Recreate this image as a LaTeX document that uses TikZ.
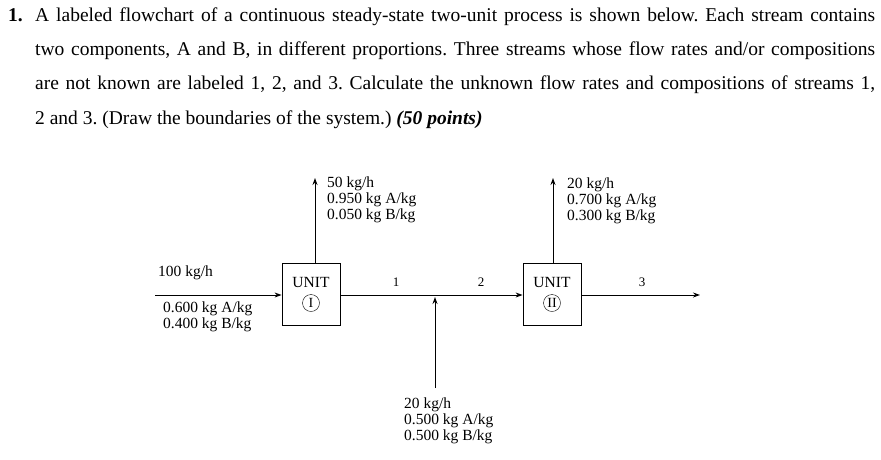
\documentclass[tikz,border=0pt]{standalone}
\usepackage{fontspec}
\setmainfont{Liberation Serif}
\usetikzlibrary{arrows.meta}
\frenchspacing
\begin{document}
\begin{tikzpicture}[x=1pt,y=-1pt,
  line/.style={line width=1pt},
  arr/.style={line width=1pt,-{Stealth[length=7pt,width=5pt]}},
  unitbox/.style={draw,line width=0.8pt,minimum width=58pt,minimum height=62pt,inner sep=0pt},
  lbl/.style={font=\fontsize{15.5}{16}\selectfont,align=left,inner sep=0pt,anchor=north west},
  para/.style={font=\fontsize{19.5}{20}\selectfont,inner sep=0pt,anchor=base west}]
\useasboundingbox (0,0) rectangle (881,459);
\node[para] (n1) at (8,21) {\textbf{1.}};
\node[para] (l1) at (35,21) {\makebox[840pt][s]{A labeled flowchart of a continuous steady-state two-unit process is shown below. Each stream contains}};
\node[para] (l2) at (35,55) {\makebox[840pt][s]{two components, A and B, in different proportions. Three streams whose flow rates and/or compositions}};
\node[para] (l3) at (35,89) {\makebox[840pt][s]{are not known are labeled 1, 2, and 3. Calculate the unknown flow rates and compositions of streams 1,}};
\node[para] (l4) at (35,124) {2 and 3. (Draw the boundaries of the system.) \textbf{\textit{(50 points)}}};

\node[unitbox] (u1) at (311,294) {};
\node[lbl,anchor=center] (u1t) at (311,282) {UNIT};
\node[draw,circle,inner sep=0.5pt,minimum size=17pt,font=\fontsize{14}{15}\selectfont] (u1c) at (311,303) {I};
\node[unitbox] (u2) at (552,294) {};
\node[lbl,anchor=center] (u2t) at (552,282) {UNIT};
\node[draw,circle,inner sep=0.5pt,minimum size=17pt,font=\fontsize{14}{15}\selectfont] (u2c) at (552,303) {II};

\coordinate (in) at (155,295);
\coordinate (top1) at (315,178);
\coordinate (top2) at (553,178);
\coordinate (out) at (700,295);
\coordinate (bot) at (435,388);
\coordinate (mix) at (435,295);
\coordinate (mixb) at (435,297);

\draw[arr] (in) -- (u1.west|-in);
\draw[arr] (u1.north-|top1) -- (top1);
\draw[line] (u1.east|-mix) -- (mix);
\draw[arr] (mix) -- (u2.west|-mix);
\draw[arr] (bot) -- (mixb);
\draw[arr] (u2.north-|top2) -- (top2);
\draw[arr] (u2.east|-out) -- (out);

\node[lbl] (a) at (327,177) {50 kg/h\\0.950 kg A/kg\\0.050 kg B/kg};
\node[lbl] (b) at (567,178) {20 kg/h\\0.700 kg A/kg\\0.300 kg B/kg};
\node[lbl] (c) at (158,266) {100 kg/h};
\node[lbl] (d) at (163,302) {0.600 kg A/kg\\0.400 kg B/kg};
\node[lbl] (e) at (404,398) {20 kg/h\\0.500 kg A/kg\\0.500 kg B/kg};
\node[lbl,anchor=center,font=\fontsize{13}{14}\selectfont] (s1) at (396,282) {1};
\node[lbl,anchor=center,font=\fontsize{13}{14}\selectfont] (s2) at (481,282) {2};
\node[lbl,anchor=center,font=\fontsize{13}{14}\selectfont] (s3) at (642,282) {3};
\end{tikzpicture}
\end{document}
